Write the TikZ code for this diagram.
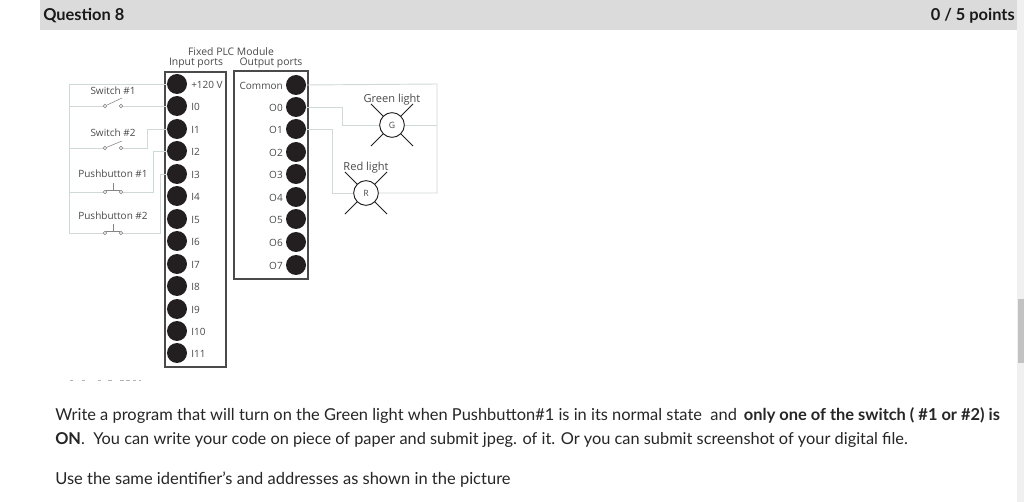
\documentclass[tikz,border=0pt]{standalone}
\usepackage{fontspec}
\setmainfont{Lato}
\newfontfamily\diag{Open Sans}
\definecolor{wire}{HTML}{CFD9D7}
\definecolor{ink}{HTML}{231F20}
\definecolor{frame}{HTML}{4A4A4A}
\definecolor{lbl}{HTML}{4A4A4A}
\tikzset{
  x=0.75pt,y=-0.75pt,
  wireline/.style={draw=wire,line width=0.7pt},
  port/.style={circle,fill=ink,inner sep=0pt,minimum size=15pt},
  lamp/.style={circle,draw=ink,fill=white,line width=0.7pt,inner sep=0pt,minimum size=18.5pt,font=\diag\fontsize{6.5}{7}\selectfont,text=lbl},
  ray/.style={draw=ink,line width=0.6pt},
  contact/.style={circle,draw=ink!60,fill=white,line width=0.35pt,inner sep=0pt,minimum size=2.6pt},
  lever/.style={draw=ink!55,line width=0.4pt},
  modbox/.style={draw=frame,fill=white,line width=1.2pt},
  dlabel/.style={font=\diag\fontsize{7.8}{8}\selectfont,text=lbl,inner sep=0pt},
  lightlabel/.style={font=\diag\fontsize{8.3}{9}\selectfont,text=lbl,inner sep=0pt},
  plabel/.style={font=\diag\fontsize{7.5}{8}\selectfont,text=lbl,inner sep=0pt},
  body/.style={anchor=base west,inner sep=0pt,text=black!85},
}
\begin{document}
\begin{tikzpicture}
\useasboundingbox (0,0) rectangle (1024,502);
\fill[white] (0,0) rectangle (1024,502);
% scrollbar
\fill[black!6] (1017,0) rectangle (1024,502);
\fill[black!24] (1018,299) rectangle (1024,363);
% header
\fill[black!14] (40,0) rectangle (1017,30);
\node[anchor=base west,inner sep=0pt,font=\fontsize{12.3}{15}\selectfont\bfseries,text=black!90] (qhead) at (43,20.7) {Question 8};
\node[anchor=base east,inner sep=0pt,font=\fontsize{12.3}{15}\selectfont\bfseries,text=black!90] (pts) at (1015,20.7) {0 / 5 points};
% titles
\node[dlabel] (title) at (231,51.5) {Fixed PLC Module};
\node[dlabel] (intitle) at (196,63) {Input ports};
\node[dlabel] (outtitle) at (271,63) {Output ports};
% coordinates
\coordinate (rtop) at (69,84);
\coordinate (rbot) at (69,233);
\coordinate (s1a) at (105,106);\coordinate (s1b) at (121,106);
\coordinate (s2a) at (105,148);\coordinate (s2b) at (121,148);
\coordinate (p1a) at (105,192);\coordinate (p1b) at (121,192);
\coordinate (p2a) at (105,233);\coordinate (p2b) at (121,233);
% boxes
\draw[modbox] (165,72) rectangle (226,367);
\draw[modbox] (234,71) rectangle (308,279);
% input ports
\foreach \n/\y/\t in {a/84/+120 V,b/106/I0,c/129/I1,d/151/I2,e/174/I3,f/196/I4,g/219/I5,h/241/I6,i/264/I7,j/286/I8,k/309/I9,l/331/I10,m/353/I11}{
  \node[port] (in\n) at (177,\y) {};
  \node[plabel,anchor=west] (lab\n) at (191,\y+0.5) {\t};
}
% output ports
\foreach \n/\y/\t in {a/85/Common,b/107/O0,c/129/O1,d/152/O2,e/174/O3,f/197/O4,g/219/O5,h/242/O6,i/265/O7}{
  \node[port] (out\n) at (296,\y) {};
  \node[plabel,anchor=east] (olab\n) at (283,\y+0.5) {\t};
}
% lamps
\node[lamp] (green) at (392,125) {G};
\node[lamp] (red) at (366,193) {R};
\foreach \l in {green,red}{
  \draw[ray] (\l.45) -- ++(12,-12);
  \draw[ray] (\l.135) -- ++(-12,-12);
  \draw[ray] (\l.225) -- ++(-12,12);
  \draw[ray] (\l.315) -- ++(12,12);
}
\node[lightlabel] (glab) at (392,99.5) {Green light};
\node[lightlabel] (rlab) at (366,167.5) {Red light};
% wires left
\draw[wireline] (ina.west) -- (rtop) -- (rbot) -- (p2a);
\draw[wireline] (rtop |- s1a) -- (s1a);
\draw[wireline] (s1b) -- (inb.west);
\draw[wireline] (rtop |- s2a) -- (s2a);
\draw[wireline] (s2b) -- (147,148) -- (147,129) -- (inc.west);
\draw[wireline] (rtop |- p1a) -- (p1a);
\draw[wireline] (p1b) -- (153,192) -- (153,151) -- (ind.west);
\draw[wireline] (p2b) -- (160,233) -- (160,174) -- (ine.west);
% wires right
\coordinate (rr) at (437,84);
\draw[wireline] (outa.east) -- (rr) -- (437,193) -- (red.east);
\draw[wireline] (green.east) -- (437,125);
\draw[wireline] (outb.east) -- (342,107) -- (342,125) -- (green.west);
\draw[wireline] (outc.east) -- (332,129) -- (332,193) -- (red.west);
% switches
\foreach \a/\b/\k in {s1a/s1b/s1,s2a/s2b/s2,p1a/p1b/p1,p2a/p2b/p2}{
  \node[contact] (\k l) at (\a) {};
  \node[contact] (\k r) at (\b) {};
}
\draw[lever] (s1l) -- (122,98);
\draw[lever] (s2l) -- (122,141);
\foreach \k/\y in {p1/192,p2/233}{
  \draw[lever] (106,\y-2) -- (120,\y-2);
  \draw[lever] (113.5,\y-2) -- (113.5,\y-9);
}
\node[plabel] (s1lab) at (113,91) {Switch \#1};
\node[plabel] (s2lab) at (113,132.5) {Switch \#2};
\node[plabel] (p1lab) at (113,174) {Pushbutton \#1};
\node[plabel] (p2lab) at (113,216) {Pushbutton \#2};
% clipped remnant of a line of text
\foreach \xa/\xb in {70/73,82/85,98/101,108/112,120/124,126/130,133/136,139/141}{
  \fill[black!30] (\xa,379.5) rectangle (\xb,381);
}
% body text
\node[body,font=\fontsize{12.32}{15}\selectfont] (l1) at (55,420.5) {Write a program that will turn on the Green light when Pushbutton\#1 is in its normal state\ \ and\hspace{2.2pt} \textbf{only one of the switch ( \#1 or \#2) is}};
\node[body,font=\fontsize{12.26}{15}\selectfont] (l2) at (55,444.5) {\textbf{ON}.\ \ You can write your code on piece of paper and submit jpeg. of it. Or you can submit screenshot of your digital file.};
\node[body,font=\fontsize{12.37}{15}\selectfont] (l3) at (55,484) {Use the same identifier's and addresses as shown in the picture};
\end{tikzpicture}
\end{document}
